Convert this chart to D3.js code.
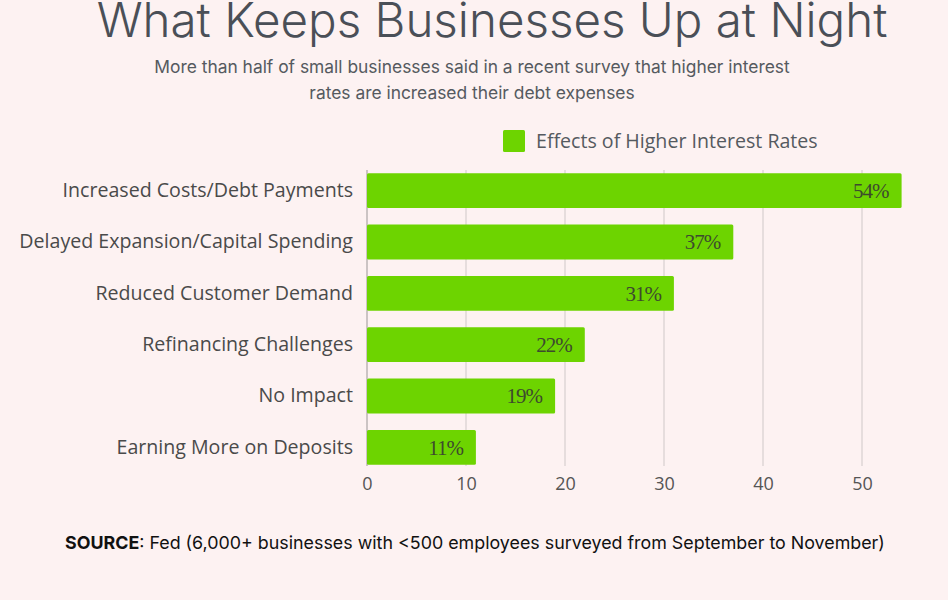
<!DOCTYPE html>
<html>
<head>
<meta charset="utf-8">
<script src="https://cdn.jsdelivr.net/npm/d3@7"></script>
<style>
  html, body { margin: 0; padding: 0; background: #fdf2f2; }
  svg { display: block; }
</style>
</head>
<body>
<div id="chart"></div>
<script>
// data
const categories = [
  'Increased Costs/Debt Payments',
  'Delayed Expansion/Capital Spending',
  'Reduced Customer Demand',
  'Refinancing Challenges',
  'No Impact',
  'Earning More on Deposits'
];
const values = [54, 37, 31, 22, 19, 11];
const xTicks = [0, 10, 20, 30, 40, 50];
const seriesName = 'Effects of Higher Interest Rates';

const W = 948, H = 600;
const svg = d3.select('#chart').append('svg')
  .attr('width', W).attr('height', H);

svg.append('rect').attr('width', W).attr('height', H).attr('fill', '#fdf2f2');

// title + subtitle
svg.append('text')
  .attr('x', 492).attr('y', 37)
  .attr('text-anchor', 'middle')
  .style('font-family', 'Inter, sans-serif')
  .style('font-weight', 300)
  .style('font-size', '47.5px')
  .style('fill', '#4a4f57')
  .text('What Keeps Businesses Up at Night');

const sub = ['More than half of small businesses said in a recent survey that higher interest',
             'rates are increased their debt expenses'];
svg.selectAll('.sub').data(sub).enter().append('text')
  .attr('x', 472).attr('y', (d, i) => 73 + i * 26)
  .attr('text-anchor', 'middle')
  .style('font-family', 'Inter, sans-serif')
  .style('font-size', '17.4px')
  .style('fill', '#555a60')
  .text(d => d);

// scales
const x = d3.scaleLinear().domain([0, 50]).range([367, 862]);
const y = d3.scaleBand().domain(categories).range([165, 473]).paddingInner(0.32).paddingOuter(0.16);

// gridlines
svg.append('g').selectAll('line').data(xTicks.slice(1)).enter().append('line')
  .attr('x1', d => x(d)).attr('x2', d => x(d))
  .attr('y1', 170).attr('y2', 466)
  .attr('stroke', '#cfc8c8').attr('stroke-width', 1);
svg.append('line')
  .attr('x1', x(0)).attr('x2', x(0)).attr('y1', 170).attr('y2', 466)
  .attr('stroke', '#9a9696').attr('stroke-width', 1);

// bars
svg.append('g').selectAll('rect').data(values).enter().append('rect')
  .attr('x', x(0))
  .attr('y', (d, i) => y(categories[i]))
  .attr('width', d => x(d) - x(0))
  .attr('height', y.bandwidth())
  .attr('rx', 1.5)
  .attr('fill', '#6dd400');

// value labels
svg.append('g').selectAll('text').data(values).enter().append('text')
  .attr('x', d => x(d) - 13)
  .attr('y', (d, i) => y(categories[i]) + y.bandwidth() / 2)
  .attr('dy', '0.35em')
  .attr('text-anchor', 'end')
  .style('font-family', '"Liberation Serif", serif')
  .style('font-size', '21px')
  .style('letter-spacing', '-1px')
  .style('fill', '#3d4a2e')
  .text(d => d + '%');

// category labels
svg.append('g').selectAll('text').data(categories).enter().append('text')
  .attr('x', 353)
  .attr('y', d => y(d) + y.bandwidth() / 2)
  .attr('dy', '0.32em')
  .attr('text-anchor', 'end')
  .style('font-family', '"Open Sans", sans-serif')
  .style('font-size', '19.6px')
  .style('fill', '#4a4a4a')
  .text(d => d);

// x axis
const xAxis = d3.axisBottom(x).tickValues(xTicks).tickSize(0).tickPadding(11);
const ax = svg.append('g').attr('transform', 'translate(0,466)').call(xAxis);
ax.select('.domain').remove();
ax.selectAll('text')
  .style('font-family', '"Open Sans", sans-serif')
  .style('font-size', '18px')
  .style('fill', '#555');

// legend
svg.append('rect').attr('x', 503).attr('y', 130).attr('width', 22).attr('height', 22)
  .attr('rx', 1.5).attr('fill', '#6dd400');
svg.append('text')
  .attr('x', 536).attr('y', 141).attr('dy', '0.35em')
  .style('font-family', '"Open Sans", sans-serif')
  .style('font-size', '19.6px')
  .style('fill', '#555a60')
  .text(seriesName);

// source
const src = svg.append('text')
  .attr('x', 65).attr('y', 549)
  .style('font-family', 'Inter, sans-serif')
  .style('font-size', '17.85px')
  .style('fill', '#111');
src.append('tspan').style('font-weight', 700).text('SOURCE');
src.append('tspan').text(': Fed (6,000+ businesses with <500 employees surveyed from September to November)');
</script>
</body>
</html>
